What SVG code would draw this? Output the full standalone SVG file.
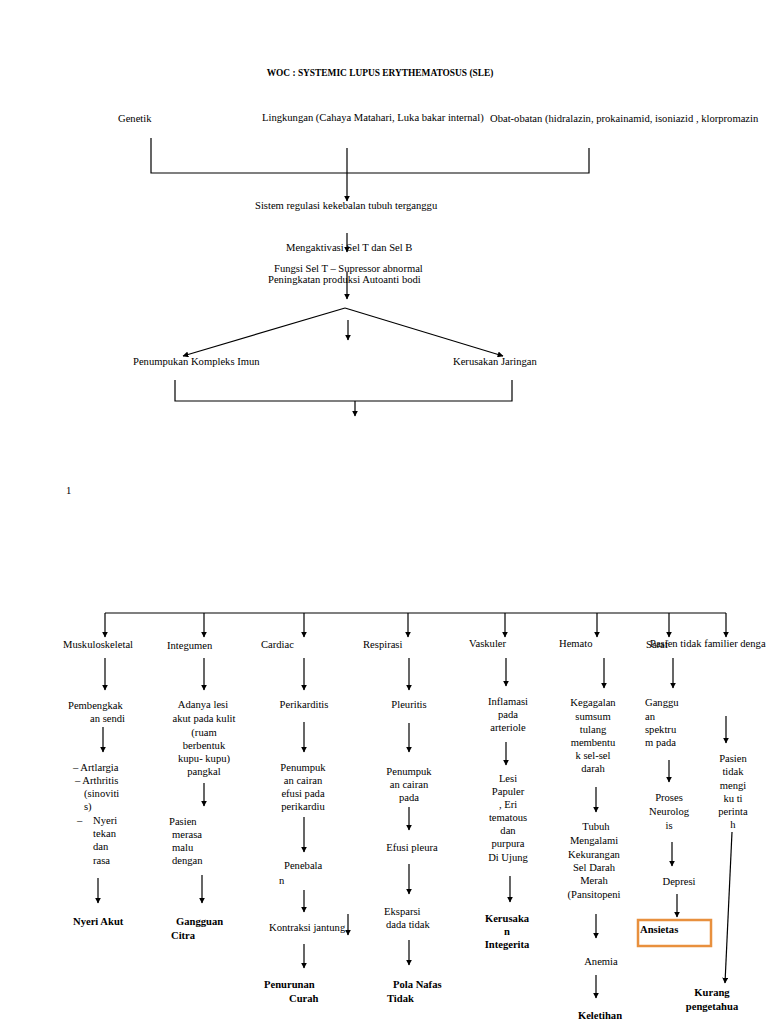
<svg xmlns="http://www.w3.org/2000/svg" width="768" height="1024" viewBox="0 0 768 1024">
<defs>
<marker id="ah" viewBox="0 0 10 10" refX="9" refY="5" markerWidth="6" markerHeight="6" orient="auto" markerUnits="userSpaceOnUse"><path d="M0,0 L10,5 L0,10 z" fill="#000"/></marker>
<style>
text{font-family:"Liberation Serif","Times New Roman",serif;font-size:10.6px;fill:#000}
.b{font-weight:bold}
.m{text-anchor:middle}
.t{font-size:9.4px}
.l{stroke:#000;stroke-width:1.2;fill:none}
.a{stroke:#000;stroke-width:1.2;fill:none;marker-end:url(#ah)}
</style>
</defs>
<rect width="768" height="1024" fill="#fff"/>
<text class="b m t" x="380" y="76">WOC : SYSTEMIC LUPUS ERYTHEMATOSUS (SLE)</text>
<g id="connectors">
<path class="l" d="M151,138 V173 H589 V148"/>
<path class="a" d="M347,148 V201"/>
<path class="a" d="M347,233 V252"/>
<path class="a" d="M347,272 V299"/>
<path class="a" d="M345,308 L183,356"/>
<path class="a" d="M345,308 L503,356"/>
<path class="a" d="M348,320 V340"/>
<path class="l" d="M175,380 V401 H512 V380"/>
<path class="a" d="M355,401 V416"/>
<path class="l" d="M105,613 H726"/>
<path class="a" d="M105,613 V637"/><path class="a" d="M204,613 V637"/><path class="a" d="M304,613 V637"/><path class="a" d="M408,613 V637"/><path class="a" d="M505,613 V637"/><path class="a" d="M597,613 V637"/><path class="a" d="M669,613 V637"/><path class="a" d="M726,613 V637"/>
<path class="a" d="M105,658 V690"/><path class="a" d="M103,727 V752"/><path class="a" d="M98,878 V903"/>
<path class="a" d="M204,658 V690"/><path class="a" d="M204,783 V806"/><path class="a" d="M202,875 V903"/>
<path class="a" d="M304,658 V690"/><path class="a" d="M304,722 V752"/><path class="a" d="M304,817 V852"/><path class="a" d="M304,890 V912"/><path class="a" d="M348,914 V935"/><path class="a" d="M304,944 V968"/>
<path class="a" d="M409,658 V690"/><path class="a" d="M409,723 V752"/><path class="a" d="M409,807 V830"/><path class="a" d="M409,864 V894"/><path class="a" d="M409,940 V965"/>
<path class="a" d="M506,658 V686"/><path class="a" d="M506,742 V765"/><path class="a" d="M510,876 V902"/>
<path class="a" d="M604,658 V688"/><path class="a" d="M596,787 V812"/><path class="a" d="M596,914 V938"/><path class="a" d="M596,975 V998"/>
<path class="a" d="M673,658 V688"/><path class="a" d="M669,760 V782"/><path class="a" d="M672,842 V866"/><path class="a" d="M677,894 V917"/>
<path class="a" d="M726,716 V743"/><path class="a" d="M732,832 L725,983"/>
</g>
<g id="n-genetik"><text x="118" y="122">Genetik</text></g>
<g id="n-lingkungan"><text x="262" y="121">Lingkungan (Cahaya Matahari, Luka bakar internal)</text></g>
<g id="n-obat"><text x="490" y="122">Obat-obatan (hidralazin, prokainamid, isoniazid , klorpromazin</text></g>
<g id="n-sistem"><text x="255" y="209">Sistem regulasi kekebalan tubuh terganggu</text></g>
<g id="n-aktivasi"><text x="286" y="251">Mengaktivasi Sel T dan Sel B</text></g>
<g id="n-fungsi"><text x="274" y="272">Fungsi Sel T – Supressor abnormal</text></g>
<g id="n-peningkatan"><text x="268" y="283">Peningkatan produksi Autoanti bodi</text></g>
<g id="n-penumpukan"><text x="133" y="365">Penumpukan Kompleks Imun</text></g>
<g id="n-kerusakan"><text x="453" y="365">Kerusakan Jaringan</text></g>
<text x="66" y="494">1</text>
<g id="n-musk"><text x="63" y="648">Muskuloskeletal</text>
<text x="68" y="709">Pembengkak</text><text x="90" y="722">an sendi</text>
<text x="73" y="771">– Artlargia</text><text x="75" y="784">– Arthritis</text><text x="84" y="797">(sinoviti</text><text x="84" y="810">s)</text>
<text x="77" y="824">–</text><text x="93" y="824">Nyeri</text><text x="93" y="837">tekan</text><text x="93" y="850">dan</text><text x="93" y="864">rasa</text>
<text class="b" x="73" y="925">Nyeri Akut</text></g>
<g id="n-integ"><text x="167" y="649">Integumen</text>
<text class="m" x="203" y="708">Adanya lesi</text><text class="m" x="204" y="722">akut pada kulit</text><text class="m" x="204" y="736">(ruam</text><text class="m" x="204" y="749">berbentuk</text><text class="m" x="204" y="762">kupu- kupu)</text><text class="m" x="204" y="775">pangkal</text>
<text x="169" y="825">Pasien</text><text x="172" y="838">merasa</text><text x="172" y="851">malu</text><text x="172" y="864">dengan</text>
<text class="b" x="176" y="925">Gangguan</text><text class="b" x="171" y="939">Citra</text></g>
<g id="n-cardiac"><text x="261" y="648">Cardiac</text>
<text class="m" x="304" y="708">Perikarditis</text>
<text class="m" x="303" y="771">Penumpuk</text><text class="m" x="303" y="784">an cairan</text><text class="m" x="303" y="797">efusi pada</text><text class="m" x="303" y="810">perikardiu</text>
<text x="284" y="869">Penebala</text><text x="279" y="884">n</text>
<text x="269" y="931">Kontraksi jantung</text>
<text class="b" x="264" y="988">Penurunan</text><text class="b" x="289" y="1002">Curah</text></g>
<g id="n-resp"><text x="363" y="648">Respirasi</text>
<text class="m" x="409" y="708">Pleuritis</text>
<text class="m" x="409" y="775">Penumpuk</text><text class="m" x="409" y="788">an cairan</text><text class="m" x="409" y="801">pada</text>
<text class="m" x="412" y="851">Efusi pleura</text>
<text x="384" y="915">Eksparsi</text><text x="386" y="928">dada tidak</text>
<text class="b" x="393" y="988">Pola Nafas</text><text class="b" x="387" y="1002">Tidak</text></g>
<g id="n-vask"><text x="469" y="647">Vaskuler</text>
<text class="m" x="508" y="705">Inflamasi</text><text class="m" x="508" y="718">pada</text><text class="m" x="508" y="731">arteriole</text>
<text class="m" x="508" y="782">Lesi</text><text class="m" x="508" y="795">Papuler</text><text class="m" x="508" y="808">, Eri</text><text class="m" x="508" y="821">tematous</text><text class="m" x="508" y="834">dan</text><text class="m" x="508" y="847">purpura</text><text class="m" x="508" y="861">Di Ujung</text>
<text class="b m" x="507" y="922">Kerusaka</text><text class="b m" x="507" y="935">n</text><text class="b m" x="507" y="948">Integerita</text></g>
<g id="n-hemato"><text x="559" y="647">Hemato</text>
<text class="m" x="593" y="706">Kegagalan</text><text class="m" x="593" y="720">sumsum</text><text class="m" x="593" y="733">tulang</text><text class="m" x="593" y="746">membentu</text><text class="m" x="593" y="759">k sel-sel</text><text class="m" x="593" y="772">darah</text>
<text class="m" x="596" y="830">Tubuh</text><text class="m" x="594" y="844">Mengalami</text><text class="m" x="594" y="858">Kekurangan</text><text class="m" x="594" y="871">Sel Darah</text><text class="m" x="594" y="884">Merah</text><text class="m" x="594" y="898">(Pansitopeni</text>
<text class="m" x="601" y="965">Anemia</text>
<text class="b m" x="600" y="1019">Keletihan</text></g>
<g id="n-saraf"><text x="646" y="648">Saraf</text>
<text x="645" y="706">Ganggu</text><text x="645" y="720">an</text><text x="645" y="733">spektru</text><text x="645" y="746">m pada</text>
<text class="m" x="669" y="801">Proses</text><text class="m" x="669" y="815">Neurolog</text><text class="m" x="669" y="829">is</text>
<text class="m" x="679" y="885">Depresi</text>
<rect x="638" y="920" width="73" height="26" fill="none" stroke="#e8903e" stroke-width="2.5"/>
<text class="b" x="640" y="933">Ansietas</text></g>
<g id="n-pasien"><text x="650" y="647">Pasien tidak familier denga</text>
<text class="m" x="733" y="762">Pasien</text><text class="m" x="733" y="775">tidak</text><text class="m" x="733" y="789">mengi</text><text class="m" x="733" y="802">ku ti</text><text class="m" x="733" y="815">perinta</text><text class="m" x="733" y="828">h</text>
<text class="b m" x="712" y="996">Kurang</text><text class="b m" x="712" y="1010">pengetahua</text></g>
</svg>
